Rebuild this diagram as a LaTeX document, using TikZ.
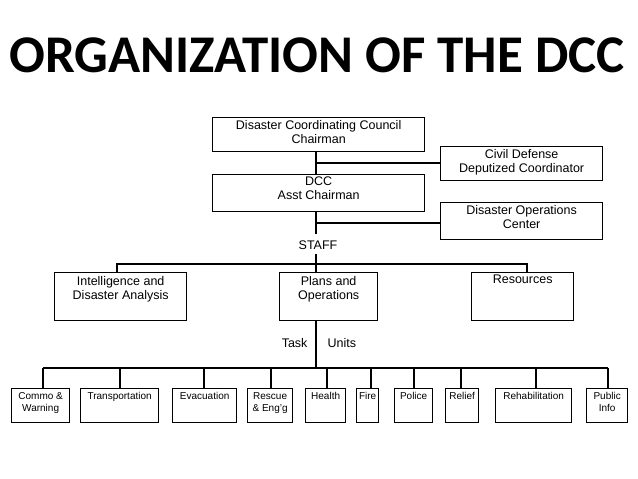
\documentclass[tikz,border=0pt]{standalone}
\usepackage{fontspec}
\setmainfont{Liberation Sans}
\newfontfamily\titlefont{Carlito}
\begin{document}
\begin{tikzpicture}[x=1pt,y=-1pt,
  bx/.style={draw,line width=1.3pt,inner sep=0pt,anchor=north west},
  tx/.style={anchor=north,inner sep=0pt,align=center,font=\fontsize{12.5}{14}\selectfont},
  sx/.style={anchor=north,inner sep=0pt,align=center,font=\fontsize{10}{12.5}\selectfont},
  ln/.style={line width=1.3pt}]
\useasboundingbox (0,0) rectangle (638,479);
\node[font=\titlefont\bfseries\fontsize{53}{53}\selectfont,anchor=base west,inner sep=0] (title) at (9,72) {ORGANIZATION OF THE DCC};
\newcommand\bx[6]{\node[bx,minimum width=#4-#2,minimum height=#5-#3] (#1) at (#2,#3) {}; \node[tx] at ([yshift=-3]#1.north) {#6};}
\bx{chair}{212}{117}{424}{151}{Disaster Coordinating Council\\Chairman}
\bx{civ}{440}{146}{602}{180}{Civil Defense\\Deputized Coordinator}
\bx{asst}{212}{174}{424}{211}{DCC\\Asst Chairman}
\bx{doc}{440}{202}{602}{239}{Disaster Operations\\Center}
\node[font=\fontsize{12.5}{14}\selectfont] (staff) at (318,245) {STAFF};
\bx{intel}{54}{272}{186}{320}{\rule{0pt}{10pt}Intelligence and\\Disaster Analysis}
\bx{plans}{279}{272}{377}{320}{\rule{0pt}{10pt}Plans and\\Operations}
\bx{res}{471}{272}{573}{320}{Resources}
\node[font=\fontsize{12.5}{14}\selectfont,anchor=east] (task) at (311,343) {Task};
\node[font=\fontsize{12.5}{14}\selectfont,anchor=west] (units) at (324,343) {Units};
\coordinate (v1) at (316,151);
\draw[ln] (chair.south -| v1) -- (asst.north -| v1);
\draw[ln] (316,163) -- (civ.west |- 0,163);
\draw[ln] (asst.south -| v1) -- (316,234);
\draw[ln] (316,223) -- (doc.west |- 0,223);
\draw[ln] (316,254) -- (plans.north -| v1);
\draw[ln] (intel.north -| 117,0) -- (117,264) -| (res.north -| 527,0);
\draw[ln] (plans.south -| v1) -- (316,368);
\foreach \n/\a/\b/\d/\t in {c1/11/69/43/{Commo \&\\Warning},c2/80/158/120/Transportation,c3/172/236/204/Evacuation,c4/247/292/271/{Rescue\\\& Eng'g},c5/305/345/327/Health,c6/356/378/371/Fire,c7/394/432/414/Police,c8/445/478/461/Relief,c9/495/571/536/Rehabilitation,c10/586/627/608/{Public\\Info}}{
  \node[bx,minimum width=\b-\a,minimum height=34] (\n) at (\a,388) {};
  \node[sx] at ([yshift=-4]\n.north) {\t};
  \draw[ln] (\n.north -| \d,0) -- (\d,368);
}
\draw[ln] (43,368) -- (608,368);
\end{tikzpicture}
\end{document}
